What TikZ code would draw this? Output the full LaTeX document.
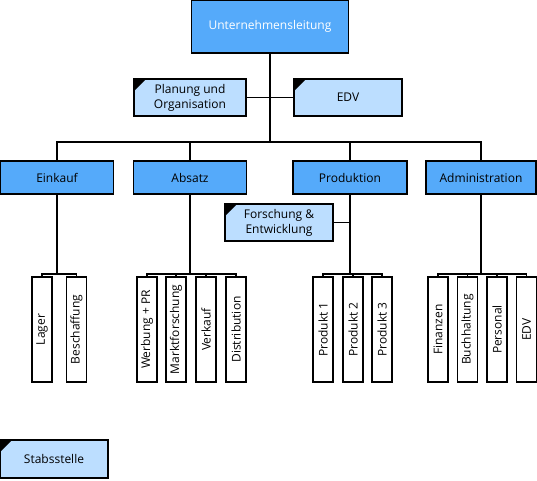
\documentclass[tikz,border=0pt]{standalone}
\usepackage{fontspec}
\setmainfont{Open Sans}

\definecolor{leitung}{RGB}{85,170,250}
\definecolor{stab}{RGB}{188,222,255}

\tikzset{
	box/.style={draw=black, line width=1.3pt, inner sep=0pt, align=center, font=\fontsize{12}{15}\selectfont},
	linie/.style={draw=black, line width=1.3pt},
	abteilung/.style={box, fill=leitung, minimum height=33pt},
	stabsstelle/.style={box, fill=stab, minimum height=37pt,
		path picture={\fill[black] (path picture bounding box.north west) -- ++(12pt,0pt) -- ++(-12pt,-12pt) -- cycle;}},
	stelle/.style={box, fill=white, minimum width=20pt, minimum height=105pt},
}
\newcommand{\hoch}[1]{\rotatebox{90}{#1}}

\begin{document}
\begin{tikzpicture}[x=1pt,y=-1pt]
	\useasboundingbox (0,0) rectangle (537,480);

	\node[box, fill=leitung, text=white, minimum width=157pt, minimum height=53pt] (ul) at (270,26.5) {Unternehmensleitung};
	\node[stabsstelle, minimum width=112pt] (plan) at (190,97.5) {Planung und\\Organisation};
	\node[stabsstelle, minimum width=108pt] (edv) at (348,97.5) {EDV};

	\node[abteilung, minimum width=113pt] (einkauf) at (57,177.5) {Einkauf};
	\node[abteilung, minimum width=113pt] (absatz) at (190,177.5) {Absatz};
	\node[abteilung, minimum width=114pt] (produktion) at (350,177.5) {Produktion};
	\node[abteilung, minimum width=110pt] (admin) at (481,177.5) {Administration};
	\node[stabsstelle, minimum width=108pt] (forschung) at (279,222.5) {Forschung \&\\Entwicklung};

	% Stellen
	\node[stelle] (lager) at (42,329.5) {\hoch{Lager}};
	\node[stelle] (beschaffung) at (76.5,329.5) {\hoch{Beschaffung}};
	\node[stelle] (werbung) at (147,329.5) {\hoch{Werbung + PR}};
	\node[stelle] (markt) at (176,329.5) {\hoch{Marktforschung}};
	\node[stelle] (verkauf) at (206,329.5) {\hoch{Verkauf}};
	\node[stelle] (distribution) at (236,329.5) {\hoch{Distribution}};
	\node[stelle] (produkt1) at (323,329.5) {\hoch{Produkt 1}};
	\node[stelle] (produkt2) at (353,329.5) {\hoch{Produkt 2}};
	\node[stelle] (produkt3) at (382,329.5) {\hoch{Produkt 3}};
	\node[stelle] (finanzen) at (438,329.5) {\hoch{Finanzen}};
	\node[stelle] (buchhaltung) at (467.5,329.5) {\hoch{Buchhaltung}};
	\node[stelle] (personal) at (497,329.5) {\hoch{Personal}};
	\node[stelle] (edv2) at (526.5,329.5) {\hoch{EDV}};

	\node[stabsstelle, minimum width=108pt, minimum height=38pt] (legende) at (54,459) {Stabsstelle};

	% Linien oben
	\coordinate (bus) at (0,142);
	\draw[linie] (ul.south) -- (ul.south |- bus);
	\draw[linie] (plan.east) -- (edv.west);
	\draw[linie] (einkauf.north) -- (einkauf.north |- bus) -- (admin.north |- bus) -- (admin.north);
	\draw[linie] (absatz.north) -- (absatz.north |- bus);
	\draw[linie] (produktion.north) -- (produktion.north |- bus);
	\draw[linie] (forschung.east) -- (forschung.east -| produktion.south);

	% Linien unten
	\coordinate (sub) at (0,274);
	\draw[linie] (einkauf.south) -- (einkauf.south |- sub);
	\draw[linie] (lager.north) -- (lager.north |- sub) -- (beschaffung.north |- sub) -- (beschaffung.north);
	\draw[linie] (absatz.south) -- (absatz.south |- sub);
	\draw[linie] (werbung.north) -- (werbung.north |- sub) -- (distribution.north |- sub) -- (distribution.north);
	\foreach \k in {markt,verkauf}
		\draw[linie] (\k.north) -- (\k.north |- sub);
	\draw[linie] (produktion.south) -- (produktion.south |- sub);
	\draw[linie] (produkt1.north) -- (produkt1.north |- sub) -- (produkt3.north |- sub) -- (produkt3.north);
	\draw[linie] (produkt2.north) -- (produkt2.north |- sub);
	\draw[linie] (admin.south) -- (admin.south |- sub);
	\draw[linie] (finanzen.north) -- (finanzen.north |- sub) -- (edv2.north |- sub) -- (edv2.north);
	\foreach \k in {buchhaltung,personal}
		\draw[linie] (\k.north) -- (\k.north |- sub);
\end{tikzpicture}
\end{document}
